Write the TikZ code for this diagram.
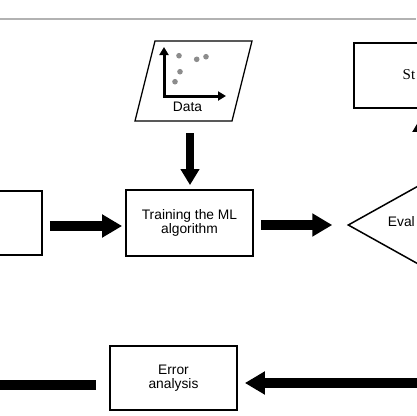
\documentclass[tikz,border=0pt]{standalone}
\usepackage{fontspec}
\setmainfont{Liberation Sans}
\newfontfamily\serifSt{Liberation Serif}
\usetikzlibrary{arrows.meta,shapes.geometric,calc}
\begin{document}
\begin{tikzpicture}[x=1pt,y=-1pt,
  box/.style={draw, line width=1.8pt, inner sep=0pt, align=center, font=\fontsize{13.8}{14}\selectfont},
  blk/.style={line width=10pt, -{Triangle[length=20pt,width=22pt]}},
  lbl/.style={font=\fontsize{13.8}{14}\selectfont, inner sep=0pt},
  dot/.style={fill=black!45}]
\useasboundingbox (0,0) rectangle (416,416);
\draw[line width=1.5pt, black!30] (0,19) -- (416,19);
% boxes
\node[box, minimum width=84pt, minimum height=64pt] (prev) at (0,223) {};
\node[box, minimum width=127pt, minimum height=66pt] (train) at (189.5,223) {Training the ML\\algorithm};
\node[box, minimum width=140pt, minimum height=65pt] (stop) at (424,75.5) {};
\node[box, minimum width=127pt, minimum height=64pt] (err) at (173.5,378) {Error\\analysis};
\node[draw, line width=1.5pt, diamond, minimum width=152pt, minimum height=85pt, inner sep=0pt] (eval) at (424,225) {};
\node[lbl, anchor=base east] (evaltxt) at (415,226) {Eval};
\node[inner sep=0pt, font=\serifSt\fontsize{15}{15}\selectfont, anchor=base west] (stoptxt) at (402.5,79.5) {St};
% data icon
\draw[line width=1.3pt] (155,41) -- (252,41) -- (232,121) -- (135,121) -- cycle;
\draw[line width=3pt, {Triangle[length=8pt,width=9pt]}-{Triangle[length=8pt,width=9pt]}] (164,47) -- (164,96) -- (226,96);
\fill[dot] (179,55.7) circle (2.8);
\fill[dot] (196.7,59.3) circle (2.8);
\fill[dot] (206,56.7) circle (2.8);
\fill[dot] (180,71.7) circle (2.8);
\fill[dot] (175,81.7) circle (2.8);
\node[lbl] (datatxt) at (187.5,106.7) {Data};
\coordinate (databot) at (190,121);
% connectors
\draw[blk, line width=8pt, -{Triangle[length=16pt,width=18pt]}, shorten <=12pt, shorten >=4pt] (databot) -- (databot |- train.north);
\draw[blk, shorten <=7pt, shorten >=3pt] ($(prev.east)+(0,3)$) -- ($(train.west)+(0,3)$);
\draw[blk, shorten <=7pt, shorten >=15pt] ($(train.east)+(0,2)$) -- (eval.west);
\draw[blk, shorten <=7pt, shorten >=3pt] (eval.north) -- (stop.south);
\coordinate (offR) at (440,383);
\draw[blk] (offR) -- ($(err.east)+(7,5)$);
\coordinate (offL) at (-40,385);
\draw[blk] ($(err.west)+(-13,7)$) -- (offL);
\end{tikzpicture}
\end{document}
